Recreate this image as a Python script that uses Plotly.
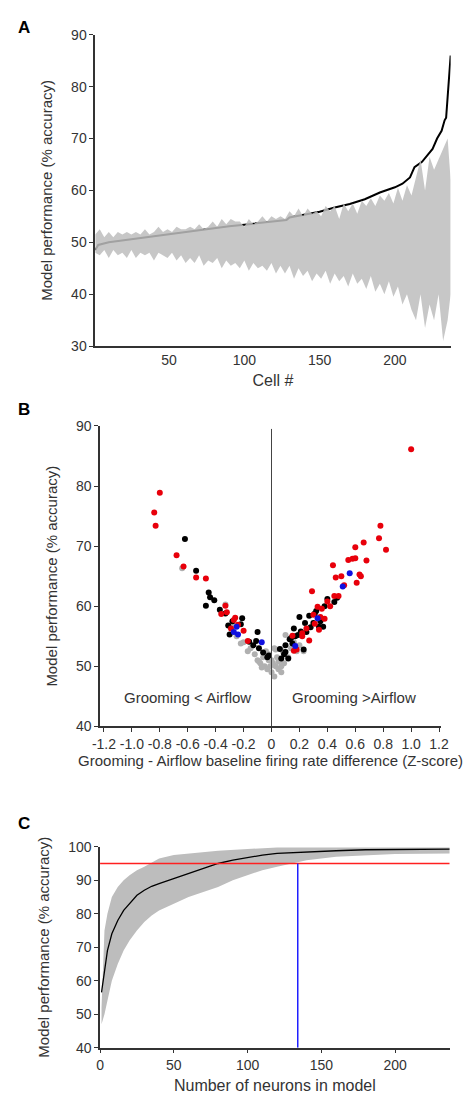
import plotly.graph_objects as go

# ---- Panel A data ----
a_line_x = [1, 3, 10, 20, 30, 40, 50, 60, 70, 80, 90, 100, 110, 120, 128, 130, 140, 150, 160, 170,
            180, 190, 200, 205, 210, 213, 218, 222, 225, 228, 231, 233, 234, 235, 236, 237]
a_line_y = [48.5, 49.5, 50.0, 50.4, 50.8, 51.2, 51.6, 52.0, 52.4, 52.8, 53.1, 53.4, 53.7, 54.0, 54.3, 54.8,
            55.4, 55.9, 56.7, 57.4, 58.3, 59.6, 60.6, 61.3, 62.5, 64.5, 65.5, 67.0, 68.0, 70.0, 71.5, 73.5,
            74.0, 78.0, 82.0, 86.0]
a_band_x = [1, 4, 7, 10, 13, 16, 19, 22, 25, 28, 31, 34, 37, 40, 43, 46, 49, 52, 55, 58, 61, 64, 67, 70,
            73, 76, 79, 82, 85, 88, 91, 94, 97, 100, 103, 106, 109, 112, 115, 118, 121, 124, 127, 130,
            133, 136, 139, 142, 145, 148, 151, 154, 157, 160, 163, 166, 169, 172, 175, 178, 181, 184,
            187, 190, 193, 196, 199, 202, 205, 208, 211, 214, 217, 220, 223, 226, 229, 232, 235, 237]
a_band_hi = [51.5, 52.5, 51.0, 52.0, 51.0, 52.0, 51.5, 52.0, 51.5, 52.0, 51.5, 52.5, 51.5, 52.0, 53.0, 52.0,
             52.5, 52.0, 53.0, 52.5, 52.5, 53.0, 52.5, 53.5, 52.5, 53.0, 54.0, 53.0, 54.5, 53.5, 54.5, 54.0,
             54.0, 53.0, 54.5, 53.5, 54.0, 55.0, 54.0, 55.0, 54.5, 55.0, 54.5, 56.0, 55.0, 56.5, 55.0, 56.5,
             55.5, 56.0, 55.0, 57.0, 56.0, 57.0, 54.5, 57.5, 56.0, 57.5, 55.5, 58.0, 57.0, 58.5, 57.0, 59.0,
             58.0, 59.5, 57.5, 60.5, 58.0, 61.0, 59.0, 62.5, 66.0, 60.0, 66.5, 64.0, 66.0, 68.0, 70.0, 62.0]
a_band_lo = [48.0, 47.5, 48.5, 47.0, 48.5, 47.5, 48.0, 47.0, 48.5, 47.0, 48.0, 47.5, 48.0, 46.5, 48.0, 47.5,
             47.0, 48.0, 46.5, 47.5, 46.0, 47.0, 46.0, 47.5, 45.5, 46.5, 46.0, 47.0, 45.0, 46.5, 45.5, 46.0,
             45.0, 46.5, 44.5, 46.0, 45.0, 45.5, 44.5, 46.0, 44.0, 45.5, 44.0, 45.5, 43.0, 45.0, 43.5, 44.5,
             42.5, 44.0, 43.0, 44.5, 42.0, 44.0, 42.5, 43.5, 41.5, 44.0, 42.0, 43.0, 41.0, 43.5, 40.5, 42.0,
             40.0, 42.5, 39.5, 41.5, 38.0, 40.0, 37.0, 35.0, 40.0, 33.5, 38.0, 35.0, 40.0, 31.0, 35.0, 40.0]

# ---- Panel B data ----
b_grey_x = [-0.64, -0.33, -0.28, -0.25, -0.22, -0.2, -0.17, -0.15, -0.12, -0.1, -0.08, -0.06, -0.05, -0.04,
            -0.03, -0.02, -0.01, 0.0, 0.01, 0.02, 0.03, 0.04, 0.05, 0.06, 0.07, 0.08, 0.09, 0.1, 0.12, 0.14,
            0.16, 0.18, 0.2, 0.23, -0.09, -0.07, -0.05, 0.03, 0.05, 0.07, 0.0, -0.02, 0.02]
b_grey_y = [66.3, 60.3, 57.0, 55.0, 53.8, 54.0, 52.5, 53.0, 52.0, 51.0, 50.5, 51.5, 50.0, 52.5,
            49.5, 51.0, 50.0, 49.0, 50.5, 48.3, 50.0, 51.5, 49.5, 51.0, 50.0, 52.5, 50.5, 55.2, 51.5, 53.0,
            54.0, 52.5, 53.5, 52.5, 50.8, 49.8, 51.8, 52.8, 50.8, 49.0, 51.0, 52.0, 53.0]
b_black_x = [-0.62, -0.54, -0.45, -0.44, -0.47, -0.41, -0.37, -0.33, -0.31, -0.3, -0.28, -0.21, -0.22,
             -0.16, -0.13, -0.11, -0.1, -0.09, -0.06, -0.03, -0.02, 0.06, 0.07, 0.09, 0.1, 0.12, 0.13,
             0.14, 0.16, 0.17, 0.2, 0.21, 0.24, 0.25, 0.27, 0.28, 0.3, 0.31, 0.32, 0.34, 0.35, 0.37, 0.38,
             0.4, 0.45, 0.47, 0.1, 0.15, 0.19, 0.23]
b_black_y = [71.2, 65.9, 62.3, 61.5, 60.1, 61.0, 59.4, 58.8, 56.8, 55.3, 57.5, 58.0, 57.0, 54.1,
             53.5, 54.2, 55.7, 53.0, 52.3, 51.5, 51.8, 52.9, 51.3, 52.0, 53.5, 51.3, 54.5, 54.7, 56.3,
             55.0, 58.2, 55.8, 57.2, 55.7, 58.4, 56.5, 57.2, 58.8, 59.2, 56.6, 57.5, 56.6, 60.0, 61.2,
             60.7, 61.4, 52.4, 53.8, 55.2, 52.8]
b_red_x = [-0.84, -0.8, -0.83, -0.68, -0.63, -0.54, -0.47, -0.36, -0.33, -0.32, -0.29, -0.27, -0.26, -0.24,
           -0.2, -0.17, 0.15, 0.16, 0.18, 0.22, 0.25, 0.29, 0.3, 0.31, 0.33, 0.34, 0.36, 0.38, 0.4, 0.42,
           0.44, 0.45, 0.46, 0.48, 0.5, 0.52, 0.55, 0.58, 0.6, 0.61, 0.6, 0.63, 0.64, 0.66, 0.68, 0.77,
           0.78, 0.82, 1.0, 0.27, 0.22, 0.35]
b_red_y = [75.6, 78.9, 73.4, 68.5, 66.6, 64.8, 64.6, 58.7, 60.1, 59.0, 56.3, 57.7, 58.1, 56.9,
           55.9, 54.2, 55.1, 52.6, 52.8, 55.0, 56.3, 62.5, 58.6, 57.1, 59.9, 56.1, 59.6, 57.9, 60.8, 60.0,
           66.8, 61.7, 64.8, 61.7, 65.0, 63.5, 67.7, 67.9, 69.8, 63.9, 68.0, 65.3, 65.0, 70.6, 67.6, 71.3,
           73.4, 69.4, 86.1, 54.3, 55.5, 58.2]
b_blue_x = [-0.27, -0.25, -0.24, -0.07, 0.17, 0.33, 0.51, 0.56]
b_blue_y = [55.7, 56.6, 55.3, 54.0, 53.4, 58.0, 63.3, 65.5]

# ---- Panel C data ----
c_mean_x = [1, 3, 5, 8, 12, 16, 20, 25, 30, 35, 40, 50, 60, 70, 80, 90, 100, 110, 120, 140, 160, 180, 200, 237]
c_mean_y = [56.5, 63, 69, 74, 78, 81, 83, 85.5, 87, 88.2, 89, 90.5, 92, 93.5, 95, 96, 96.8, 97.5, 98, 98.5,
            98.8, 99.1, 99.2, 99.3]
c_hi_x = [1, 3, 5, 8, 12, 16, 20, 25, 30, 40, 50, 60, 80, 100, 120, 237]
c_hi_y = [52, 75, 80, 85, 88, 90, 91.5, 93, 94, 96.5, 97.5, 98, 98.8, 99.3, 99.8, 99.8]
c_lo_x = [1, 3, 5, 8, 12, 16, 20, 25, 30, 35, 40, 50, 60, 70, 80, 90, 100, 110, 120, 130, 140, 160, 180, 200, 237]
c_lo_y = [47, 50, 54, 60, 65, 69, 72, 75, 77.5, 79.5, 81, 83, 85, 86.5, 88, 90, 91.5, 93, 94, 95, 96, 97,
          97.5, 97.8, 98]
c_threshold = 95
c_cross_n = 134

GREY = "#bdbdbd"
TXT = "#333333"
FAM = "Liberation Sans, Arial, sans-serif"
FONT = dict(family=FAM, size=14, color=TXT)

fig = go.Figure()

# Panel A
fig.add_trace(go.Scatter(x=a_line_x, y=a_line_y, mode="lines", line=dict(width=2, color="black"),
                         xaxis="x", yaxis="y", showlegend=False))
fig.add_trace(go.Scatter(x=a_band_x, y=a_band_hi, mode="lines", line=dict(width=0, color=GREY),
                         xaxis="x", yaxis="y", showlegend=False, hoverinfo="skip"))
fig.add_trace(go.Scatter(x=a_band_x, y=a_band_lo, mode="lines", line=dict(width=0, color=GREY),
                         fill="tonexty", fillcolor="rgba(189,189,189,0.85)", xaxis="x", yaxis="y", showlegend=False))

# Panel B
for xs, ys, col in [(b_grey_x, b_grey_y, "#b0b0b0"), (b_black_x, b_black_y, "black"),
                    (b_red_x, b_red_y, "#e8000b"), (b_blue_x, b_blue_y, "#1010e0")]:
    fig.add_trace(go.Scatter(x=xs, y=ys, mode="markers", marker=dict(size=6, color=col),
                             xaxis="x2", yaxis="y2", showlegend=False))
fig.add_trace(go.Scatter(x=[0, 0], y=[40, 89.5], mode="lines", line=dict(width=1, color="#444"),
                         xaxis="x2", yaxis="y2", showlegend=False))

# Panel C
fig.add_trace(go.Scatter(x=c_hi_x, y=c_hi_y, mode="lines", line=dict(width=0, color=GREY),
                         xaxis="x3", yaxis="y3", showlegend=False))
fig.add_trace(go.Scatter(x=c_lo_x, y=c_lo_y, mode="lines", line=dict(width=0, color=GREY),
                         fill="tonexty", fillcolor=GREY, xaxis="x3", yaxis="y3", showlegend=False))
fig.add_trace(go.Scatter(x=c_mean_x, y=c_mean_y, mode="lines", line=dict(width=1.3, color="black"),
                         xaxis="x3", yaxis="y3", showlegend=False))
fig.add_trace(go.Scatter(x=[0, 237], y=[c_threshold, c_threshold], mode="lines",
                         line=dict(width=1.5, color="#ff2020"), xaxis="x3", yaxis="y3", showlegend=False))
fig.add_trace(go.Scatter(x=[c_cross_n, c_cross_n], y=[40, c_threshold], mode="lines",
                         line=dict(width=1.5, color="#2020ff"), xaxis="x3", yaxis="y3", showlegend=False))

ax = dict(showline=True, linecolor="#333", linewidth=1.5, showgrid=False, zeroline=False,
          tickfont=FONT, ticks="outside", ticklen=4, tickcolor="#333")
ytitle = dict(text="Model performance (% accuracy)", font=dict(family=FAM, size=15, color=TXT))

fig.update_layout(
    width=474, height=1097, margin=dict(l=0, r=0, t=0, b=0),
    plot_bgcolor="white", paper_bgcolor="white", font=FONT,
    xaxis=dict(ax, domain=[0.173, 0.949], range=[1, 237], tickvals=[50, 100, 150, 200], ticks="",
               anchor="y", title=dict(text="Cell #", font=dict(size=16, color=TXT), standoff=8)),
    yaxis=dict(ax, domain=[0.6946, 0.9827], range=[30, 90], dtick=10, anchor="x", title=ytitle),
    xaxis2=dict(ax, domain=[0.1835, 0.928], range=[-1.228, 1.214],
                tickvals=[-1.2, -1.0, -0.8, -0.6, -0.4, -0.2, 0, 0.2, 0.4, 0.6, 0.8, 1.0, 1.2],
                ticktext=["-1.2", "-1.0", "-0.8", "-0.6", "-0.4", "-0.2", "0", "0.2", "0.4", "0.6", "0.8", "1.0", "1.2"],
                anchor="y2",
                title=dict(text="Grooming - Airflow baseline firing rate difference (Z-score)",
                           font=dict(size=15, color=TXT), standoff=4)),
    yaxis2=dict(ax, domain=[0.3428, 0.6208], range=[40, 90], dtick=10, anchor="x2", title=ytitle),
    xaxis3=dict(ax, domain=[0.1835, 0.947], range=[0, 237], tickvals=[0, 50, 100, 150, 200], anchor="y3",
                title=dict(text="Number of neurons in model", font=dict(size=16, color=TXT), standoff=8)),
    yaxis3=dict(ax, domain=[0.0456, 0.2315], range=[40, 100], dtick=10, anchor="x3", title=ytitle),
    annotations=[
        dict(text="<b>A</b>", x=0.0, y=1.0, xref="paper", yref="paper", xanchor="left", yanchor="top",
             showarrow=False, font=dict(size=17, color="black")),
        dict(text="<b>B</b>", x=0.0, y=1 - 388 / 1097, xref="paper", yref="paper", xanchor="left", yanchor="top",
             showarrow=False, font=dict(size=17, color="black")),
        dict(text="<b>C</b>", x=0.0, y=1 - 808 / 1097, xref="paper", yref="paper", xanchor="left", yanchor="top",
             showarrow=False, font=dict(size=17, color="black")),
        dict(text="Grooming < Airflow", x=-0.605, y=44.8, xref="x2", yref="y2", showarrow=False,
             font=dict(size=15, color=TXT)),
        dict(text="Grooming >Airflow", x=0.59, y=44.8, xref="x2", yref="y2", showarrow=False,
             font=dict(size=15, color=TXT)),
    ],
)

fig.write_html("out.html")
